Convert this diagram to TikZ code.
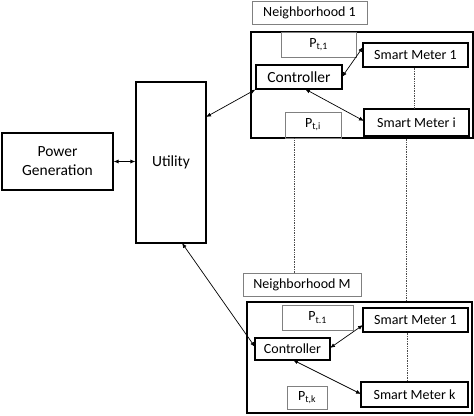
\documentclass[tikz,border=0pt]{standalone}
\usepackage{fontspec}
\setmainfont{Carlito}
\usetikzlibrary{arrows.meta}
\tikzset{
  box/.style={draw=black, line width=1.1bp, inner sep=0pt, font=\fontsize{14bp}{16bp}\selectfont},
  bigbox/.style={draw=black, line width=1.5bp, inner sep=0pt},
  greybox/.style={draw=black!50, line width=0.9bp, inner sep=0pt, font=\fontsize{14bp}{16bp}\selectfont},
  lbox/.style={draw=black, line width=1.1bp, inner sep=0pt, font=\fontsize{15.5bp}{19bp}\selectfont, align=center},
  link/.style={line width=0.7bp, {Latex[length=5bp,width=4bp]}-{Latex[length=5bp,width=4bp]}},
  dots/.style={densely dotted, line width=0.7bp, black!70}
}
\begin{document}
\begin{tikzpicture}[x=1bp,y=-1bp]
\useasboundingbox (0,0) rectangle (474,415);
% left side
\node[lbox, minimum width=111bp, minimum height=57bp] (pg) at (57.5,161.5) {Power\\Generation};
\node[lbox, minimum width=70bp, minimum height=161bp] (util) at (171,162.5) {Utility};
% neighborhood 1
\node[greybox, minimum width=115bp, minimum height=23bp] (n1lab) at (309.5,12.5) {Neighborhood 1};
\node[bigbox, minimum width=222bp, minimum height=106bp] (n1) at (362,85) {};
\node[greybox, minimum width=75bp, minimum height=25bp] (p11) at (318.5,44.5) {P\textsubscript{t,1}};
\node[box, minimum width=105bp, minimum height=24bp] (sm11) at (415.5,55) {Smart Meter 1};
\node[lbox, minimum width=86bp, minimum height=24bp] (c1) at (299,77) {Controller};
\node[box, minimum width=105bp, minimum height=27bp] (smi) at (416.5,122.5) {Smart Meter i};
\node[greybox, minimum width=56bp, minimum height=26bp] (pti) at (313,125) {P\textsubscript{t,i}};
% neighborhood M
\node[greybox, minimum width=118bp, minimum height=23bp] (nMlab) at (302,284.5) {Neighborhood M};
\node[bigbox, minimum width=225bp, minimum height=111bp] (nM) at (359.5,357.5) {};
\node[greybox, minimum width=71bp, minimum height=25bp] (pM1) at (317.5,317.5) {P\textsubscript{t.1}};
\node[box, minimum width=105bp, minimum height=24bp] (smM1) at (415.5,320) {Smart Meter 1};
\node[box, minimum width=75bp, minimum height=22bp] (cM) at (292.5,349) {Controller};
\node[box, minimum width=107bp, minimum height=25bp] (smk) at (414.5,394.5) {Smart Meter k};
\node[greybox, minimum width=40bp, minimum height=23bp] (ptk) at (307,397.5) {P\textsubscript{t,k}};
% connection points
\coordinate (u1) at (206,117);
\coordinate (u2) at (182,243);
\coordinate (cMw) at (255,347);
\coordinate (sm11w) at (363,47);
\coordinate (c1e) at (342,77);
\coordinate (c1s) at (305,89);
\coordinate (smiw) at (364,121);
\coordinate (smM1w) at (363,325);
\coordinate (cMe) at (330,348);
\coordinate (cMs) at (293,360);
\coordinate (smkw) at (361,394);
% links
\draw[link] (pg.east) -- (util.west |- pg.east);
\draw[link] (c1.south west) -- (u1);
\draw[link] (u2) -- (cMw);
\draw[link] (sm11w) -- (c1e);
\draw[link] (c1s) -- (smiw);
\draw[link] (smM1w) -- (cMe);
\draw[link] (cMs) -- (smkw);
% dotted lines
\draw[dots] (sm11.south -| 414,0) -- (smi.north -| 414,0);
\draw[dots] (pti.south -| 294,0) -- (nMlab.north -| 294,0);
\draw[dots] (n1.south -| 406,0) -- (nM.north -| 406,0);
\draw[dots] (smM1.south -| 407,0) -- (smk.north -| 407,0);
\end{tikzpicture}
\end{document}
